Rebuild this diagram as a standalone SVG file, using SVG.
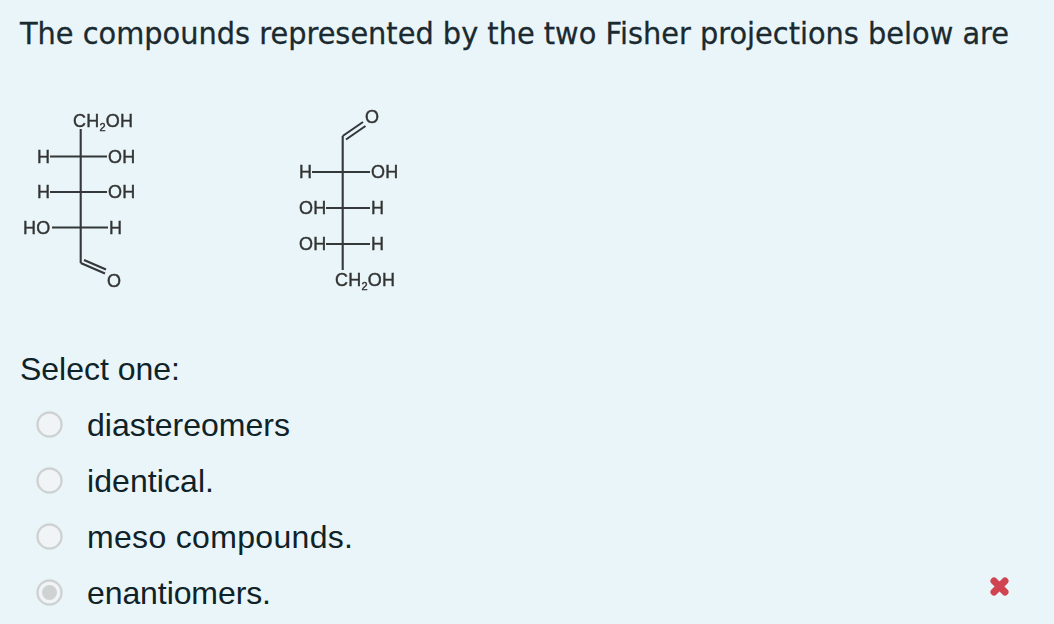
<svg xmlns="http://www.w3.org/2000/svg" width="1054" height="624" viewBox="0 0 1054 624">
<style>
.title{font-family:"DejaVu Sans","Liberation Sans",sans-serif;font-size:30px;fill:#1b2a30;stroke:#1b2a30;stroke-width:.3}
.body{font-family:"Liberation Sans",Arial,sans-serif;font-size:32px;fill:#0f2228}
.chem{font-family:"Liberation Sans",Arial,sans-serif;font-size:18px;fill:#333;stroke:#333;stroke-width:.4;letter-spacing:.2px;filter:url(#soft)}
.sub{font-size:11px}
.bond{stroke:#34373a;stroke-width:2.100;fill:none;filter:url(#soft)}
.radio{fill:#f1f4f6;stroke:#cfd2d3;stroke-width:2.400}
</style>
<defs><filter id="soft" x="-20%" y="-20%" width="140%" height="140%"><feGaussianBlur stdDeviation="0.4"/></filter></defs>
<rect width="1054" height="624" fill="#e9f5f8"/>
<text id="title" class="title" x="20" y="44" textLength="989" lengthAdjust="spacingAndGlyphs">The compounds represented by the two Fisher projections below are</text>
<g id="connectors">
<path class="bond" d="M80.700 129V263M50 156.500H107M50 192H107M52 227.500H108M80.700 263L105 273.500M84 260L106 269.500"/>
<path class="bond" d="M342.700 136V270M312 172H370M326 208H370M326 244H370M342.700 136L363 122M346 139.500L365.500 126"/>
</g>
<g id="fischer-left">
<text class="chem" x="73" y="127">CH<tspan class="sub" dy="4">2</tspan><tspan dy="-4">OH</tspan></text>
<text class="chem" x="37" y="163">H</text><text class="chem" x="108" y="163">OH</text>
<text class="chem" x="37" y="198">H</text><text class="chem" x="108" y="198">OH</text>
<text class="chem" x="23" y="234">HO</text><text class="chem" x="109" y="234">H</text>
<text class="chem" x="107" y="287">O</text>
</g>
<g id="fischer-right">
<text class="chem" x="365" y="123">O</text>
<text class="chem" x="299" y="178">H</text><text class="chem" x="371" y="178">OH</text>
<text class="chem" x="299" y="214">OH</text><text class="chem" x="371" y="214">H</text>
<text class="chem" x="299" y="250">OH</text><text class="chem" x="371" y="250">H</text>
<text class="chem" x="335" y="286">CH<tspan class="sub" dy="4">2</tspan><tspan dy="-4">OH</tspan></text>
</g>
<text id="prompt" class="body" x="20" y="380" textLength="160">Select one:</text>
<g id="option-1"><circle class="radio" cx="49.500" cy="424.500" r="12"/><text class="body" x="87" y="436" textLength="203">diastereomers</text></g>
<g id="option-2"><circle class="radio" cx="49.500" cy="480.500" r="12"/><text class="body" x="87" y="492" textLength="127">identical.</text></g>
<g id="option-3"><circle class="radio" cx="49.500" cy="536.500" r="12"/><text class="body" x="87" y="548" textLength="266">meso compounds.</text></g>
<g id="option-4"><circle class="radio" cx="49.500" cy="592.500" r="12"/><circle cx="49.500" cy="592.500" r="7.500" fill="#cfd2d3"/><text class="body" x="87" y="604" textLength="184">enantiomers.</text></g>
<g id="wrong-mark"><path d="M994 581L1005 592M1005 581L994 592" transform="translate(0,0)" stroke="#cf4450" stroke-width="7" stroke-linecap="round" fill="none"/></g>
</svg>
